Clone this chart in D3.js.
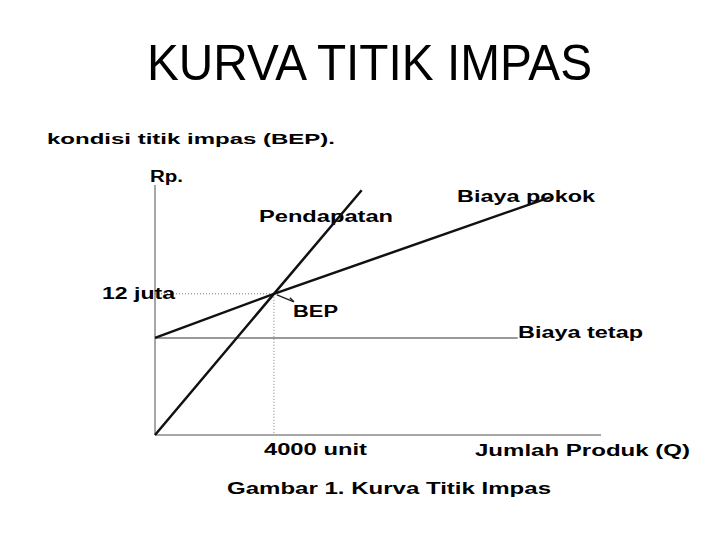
<!DOCTYPE html>
<html>
<head>
<meta charset="utf-8">
<script src="https://cdn.jsdelivr.net/npm/d3@7"></script>
<style>
  body { margin: 0; background: #fff; }
  text { font-family: "Liberation Sans", Arial, sans-serif; fill: #000; }
</style>
</head>
<body>
<div id="graph"></div>
<script>
var width = 727;
var height = 545;

// data (Q in units, Rp in juta)
var revenueQ = [0, 4000, 6950];
var revenueRp = [0, 12, 20.8];
var totalCostQ = [0, 4000, 13280];
var totalCostRp = [8.25, 12, 20.2];
var fixedCostQ = [0, 12200];
var fixedCostRp = [8.25, 8.25];
var bepQ = 4000;
var bepRp = 12;
var xMax = 15000;
var yMax = 21.25;

var svg = d3.select('#graph')
    .append('svg')
    .attr('width', width)
    .attr('height', height);

var x = d3.scaleLinear().domain([0, xMax]).range([155, 601]);
var y = d3.scaleLinear().domain([0, yMax]).range([435, 185]);

function label(txt, px, py, len, size, bold) {
    svg.append('text')
        .attr('x', px)
        .attr('y', py)
        .attr('font-size', size)
        .attr('font-weight', bold ? 'bold' : 'normal')
        .attr('textLength', len)
        .attr('lengthAdjust', 'spacingAndGlyphs')
        .text(txt);
}

// titles
label('KURVA TITIK IMPAS', 147, 80, 445, 50, false);
label('kondisi titik impas (BEP).', 47, 144, 288, 15, true);

// axes
svg.append('line')
    .attr('x1', x(0)).attr('y1', y(yMax))
    .attr('x2', x(0)).attr('y2', y(0))
    .attr('stroke', '#8a8a8a').attr('stroke-width', 1.5);
svg.append('line')
    .attr('x1', x(0)).attr('y1', y(0))
    .attr('x2', x(xMax)).attr('y2', y(0))
    .attr('stroke', '#8a8a8a').attr('stroke-width', 1.5);

// dotted guides to BEP
svg.append('line')
    .attr('x1', x(0)).attr('y1', y(bepRp))
    .attr('x2', x(bepQ)).attr('y2', y(bepRp))
    .attr('stroke', '#777').attr('stroke-width', 1)
    .attr('stroke-dasharray', '1,2');
svg.append('line')
    .attr('x1', x(bepQ)).attr('y1', y(bepRp))
    .attr('x2', x(bepQ)).attr('y2', y(0))
    .attr('stroke', '#777').attr('stroke-width', 1)
    .attr('stroke-dasharray', '1,2');

// labels
label('Rp.', 150, 182, 33, 16, true);
label('Pendapatan', 259, 222, 134, 16, true);
label('Biaya pokok', 457, 202, 138, 16, true);
label('12 juta', 102, y(bepRp) + 5, 73, 16, true);
label('BEP', 293, 317, 45, 16, true);
label('Biaya tetap', 518, 338, 125, 16, true);
label('4000 unit', x(bepQ) - 10, 455, 103, 16, true);
label('Jumlah Produk (Q)', 475, 456, 215, 16, true);
label('Gambar 1. Kurva Titik Impas', 227, 494, 324, 16, true);

var line = d3.line()
    .x(function(d) { return x(d[0]); })
    .y(function(d) { return y(d[1]); });

// fixed cost (gray thin)
svg.append('path')
    .datum(d3.zip(fixedCostQ, fixedCostRp))
    .attr('d', line)
    .attr('fill', 'none')
    .attr('stroke', '#777')
    .attr('stroke-width', 1.5);

// total cost and revenue
[d3.zip(totalCostQ, totalCostRp), d3.zip(revenueQ, revenueRp)].forEach(function(pts) {
    svg.append('path')
        .datum(pts)
        .attr('d', line)
        .attr('fill', 'none')
        .attr('stroke', '#111')
        .attr('stroke-width', 2.5);
});

// BEP pointer
var bx = x(bepQ), by = y(bepRp);
svg.append('line')
    .attr('x1', bx + 3).attr('y1', by + 1)
    .attr('x2', bx + 20).attr('y2', by + 8)
    .attr('stroke', '#222').attr('stroke-width', 1.5);
svg.append('line')
    .attr('x1', bx + 20).attr('y1', by + 8)
    .attr('x2', bx + 16).attr('y2', by + 4)
    .attr('stroke', '#222').attr('stroke-width', 1.5);
</script>
</body>
</html>
